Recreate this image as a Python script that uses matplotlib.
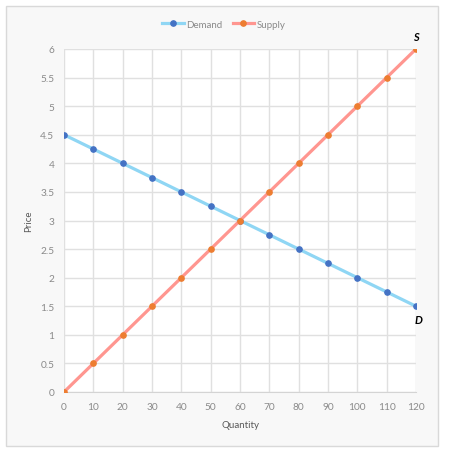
import matplotlib
matplotlib.use('Agg')
import matplotlib.pyplot as plt
from matplotlib.patches import Rectangle

plt.rcParams['font.family'] = ['Lato', 'DejaVu Sans']

quantity = [0, 10, 20, 30, 40, 50, 60, 70, 80, 90, 100, 110, 120]
demand = [4.5, 4.25, 4.0, 3.75, 3.5, 3.25, 3.0, 2.75, 2.5, 2.25, 2.0, 1.75, 1.5]
supply = [0, 0.5, 1.0, 1.5, 2.0, 2.5, 3.0, 3.5, 4.0, 4.5, 5.0, 5.5, 6.0]
x_ticks = list(range(0, 121, 10))
y_ticks = [0, 0.5, 1, 1.5, 2, 2.5, 3, 3.5, 4, 4.5, 5, 5.5, 6]
y_tick_labels = ['0', '0.5', '1', '1.5', '2', '2.5', '3', '3.5', '4', '4.5', '5', '5.5', '6']

grey = '#8a8a8a'

fig = plt.figure(figsize=(4.61, 4.52), dpi=100)
fig.patch.set_facecolor('white')
fig.patches.append(Rectangle((6 / 461, 1 - 447 / 452), 432 / 461, 440 / 452,
                             transform=fig.transFigure, facecolor='#f8f8f8',
                             edgecolor='#d9d9d9', linewidth=1.0, zorder=-10))

ax = fig.add_axes([64 / 461, 1 - 393 / 452, 352 / 461, 343 / 452])
ax.set_zorder(1)
ax.set_facecolor('white')

ax.plot(quantity, demand, color='#8fd6f4', linewidth=2.3, marker='o', markersize=3.8,
        markerfacecolor='#4472c4', markeredgecolor='#4472c4', label='Demand', zorder=3)
ax.plot(quantity, supply, color='#ff9690', linewidth=2.3, marker='o', markersize=3.8,
        markerfacecolor='#ed7d31', markeredgecolor='#ed7d31', label='Supply', zorder=3)

ax.set_xlim(0, 120)
ax.set_ylim(0, 6)
ax.set_xticks(x_ticks)
ax.set_yticks(y_ticks)
ax.set_yticklabels(y_tick_labels)
ax.grid(True, color='#e0e0e0', linewidth=1.0)
ax.set_axisbelow(True)
for side in ['top', 'right', 'left']:
    ax.spines[side].set_visible(False)
ax.spines['bottom'].set_color('#d4d4d4')
ax.tick_params(length=0, labelsize=7.3, labelcolor=grey, pad=7)

ax.set_xlabel('Quantity', fontsize=7, color='#595959', labelpad=7)
ax.set_ylabel('Price', fontsize=7, color='#595959', labelpad=5)

ax.text(120, 6.12, 'S', fontsize=8, fontweight='bold', style='italic', ha='center', va='bottom')
ax.text(121, 1.37, 'D', fontsize=8, fontweight='bold', style='italic', ha='center', va='top')

leg = fig.legend(loc='center', bbox_to_anchor=(224 / 461, 1 - 25 / 452), ncol=2, frameon=False,
                 fontsize=7, labelcolor=grey, handlelength=2.2, columnspacing=1.0, handletextpad=0.3)
leg.set_zorder(2)

for lbl in ax.get_xticklabels() + ax.get_yticklabels():
    lbl.set_clip_on(False)

fig.savefig('out.png', dpi=100)
